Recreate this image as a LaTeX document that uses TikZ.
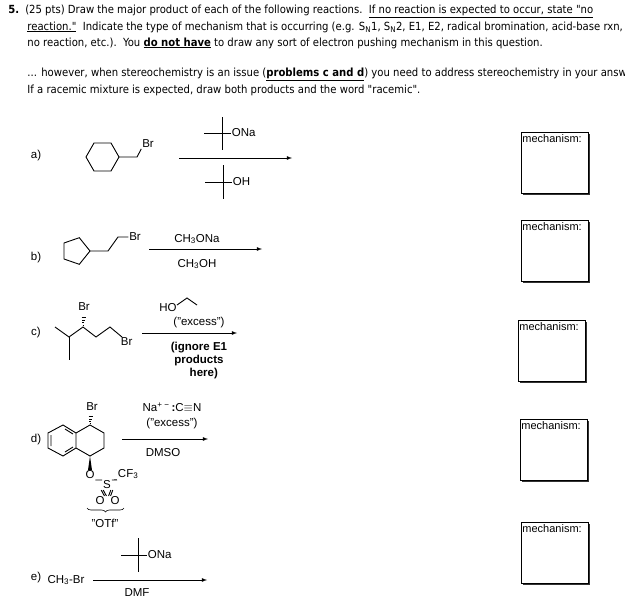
\documentclass[tikz,border=0pt]{standalone}
\usepackage{fontspec}
\setmainfont{Liberation Sans}
\newfontfamily\bodyfont{DejaVu Sans Condensed}
\usetikzlibrary{decorations.pathreplacing,calc}
\newcommand{\ul}[1]{\underline{#1}}
\newcommand{\SN}{S\textsubscript{N}}
\begin{document}
\begin{tikzpicture}[x=1pt,y=-1pt,line width=0.9pt,
  body/.style={anchor=west,inner sep=0pt,font=\bodyfont\fontsize{11.2}{13}\selectfont},
  chem/.style={inner sep=0.5pt,font=\fontsize{11.5}{13}\selectfont},
  rxn/.style={-latex,line width=0.8pt},
  mbox/.style={draw,fill=white,line width=0.8pt},
  lbl/.style={inner sep=0pt,font=\fontsize{11.5}{13}\selectfont}]
\useasboundingbox (0,0) rectangle (625,600);
% header
\node[body] (h1) at (8,11) {\textbf{5.}\hspace{6pt}(25 pts) Draw the major product of each of the following reactions.\ \ \ul{If no reaction is expected to occur, state "no}};
\node[body] (h2) at (27,27) {\ul{reaction."}\ \ Indicate the type of mechanism that is occurring (e.g. \SN1, \SN2, E1, E2, radical bromination, acid-base rxn,};
\node[body] (h3) at (27,43) {no reaction, etc.).\ \ You \textbf{\ul{do not have}} to draw any sort of electron pushing mechanism in this question.};
\node[body] (h4) at (27,74) {... however, when stereochemistry is an issue (\textbf{\ul{problems c and d}}) you need to address stereochemistry in your answer.};
\node[body] (h5) at (27,90) {If a racemic mixture is expected, draw both products and the word "racemic".};
% mechanism boxes
\foreach \n/\x/\y in {ma/521/132,mb/521/220,mc/518/320,md/520/419,me/521/522}{
  \fill[black!80] (\x+2,\y+2) rectangle ++(67,61);
  \draw[mbox] (\x,\y) rectangle ++(67,61);
  \node[anchor=north west,inner sep=1pt,font=\fontsize{11}{12}\selectfont] (\n) at (\x,\y+1) {mechanism:};
}
% a)
\node[lbl] (la) at (36,156) {a)};
\draw (119,157) -- (111,143) -- (94,143) -- (86,157) -- (94,171) -- (111,171) -- cycle;
\coordinate (a1) at (119,157);
\coordinate (a2) at (137,157);
\node[chem] (abr) at (148,144) {Br};
\draw (a1) -- (a2) -- (abr.south west);
\coordinate (ra1) at (179,158); \coordinate (ra2) at (292,158);
\draw[rxn] (ra1) -- (ra2);
\draw (222,117) -- (222,150) (204,133) -- (231,133);
\node[chem,anchor=west] (aona) at (231,133) {ONa};
\draw (223,165) -- (223,199) (205,182) -- (232,182);
\node[chem,anchor=west] (aoh) at (232,182) {OH};
% b)
\node[lbl] (lb) at (36,258) {b)};
\draw (90,251) -- (79.3,237.7) -- (64.0,243.0) -- (64.0,259.0) -- (79.3,264.3) -- cycle;
\node[chem] (bbr) at (135,237) {Br};
\draw (90,251) -- (108,251) -- (118,237) -- (bbr.west);
\draw[rxn] (149,249) -- (262,249);
\node[chem] (bc1) at (197,239) {CH\textsubscript{3}ONa};
\node[chem] (bc2) at (197,264) {CH\textsubscript{3}OH};
% c)
\node[lbl] (lc) at (36,333) {c)};
\draw (55,327) -- (69,337) -- (83,327) -- (96,337) -- (110,327) -- (122,337);
\draw (69,337) -- (69,360);
\node[chem] (cbr1) at (84,307) {Br};
\foreach \t in {0.15,0.35,...,0.95}{\draw[line width=0.7pt] ($(83,327)!\t!(84,314)+(-2.8*\t,0)$) -- ($(83,327)!\t!(84,314)+(2.8*\t,0)$);}
\node[chem,anchor=north west] (cbr2) at (120,337) {Br};
\draw[rxn] (142,333) -- (237,333);
\node[chem] (cho) at (168,308) {HO};
\draw (177,305) -- (187,298) -- (197,305);
\node[chem] (cex) at (199,323) {("excess")};
\node[chem,font=\bfseries\fontsize{11.5}{13}\selectfont,align=center] (cig) at (199,361) {(ignore E1\\products\\\ \ \ here)};
% d)
\node[lbl] (ld) at (36,440) {d)};
\draw (63,425) -- (76,433) -- (76,448) -- (63,456) -- (48,448) -- (48,433) -- cycle;
\draw (51,435) -- (51,446) (65,429) -- (73,434) (73,447) -- (65,452);
\draw (76,433) -- (90,425) -- (104,433) -- (104,448) -- (90,456) -- (76,448);
\node[chem] (dbr) at (92,407) {Br};
\foreach \t in {0.15,0.35,...,0.95}{\draw[line width=0.7pt] ($(90,425)!\t!(91,414)+(-2.8*\t,0)$) -- ($(90,425)!\t!(91,414)+(2.8*\t,0)$);}
\node[chem] (do) at (90,475) {O};
\fill (90,456) -- (88,470) -- (92,470) -- cycle;
\node[chem] (ds) at (107,485) {S};
\node[chem,anchor=west] (dcf) at (117,474) {CF\textsubscript{3}};
\node[chem] (do1) at (100,501) {O};
\node[chem] (do2) at (115,501) {O};
\draw (do.south east) -- (ds.north west) (ds.north east) -- (dcf.south west);
\draw ([xshift=-1pt]ds.south west) -- ([xshift=-1pt]do1.north east) ([xshift=1pt]ds.south west) -- ([xshift=1pt]do1.north east);
\draw ([xshift=-1pt]ds.south east) -- ([xshift=-1pt]do2.north west) ([xshift=1pt]ds.south east) -- ([xshift=1pt]do2.north west);
\draw[decorate,decoration={brace,mirror,amplitude=4pt},line width=0.6pt] (87,508) -- (124,508);
\node[chem] (dotf) at (105,523) {"OTf"};
\draw[rxn] (122,439) -- (208,439);
\node[chem] (dcn) at (172,407) {Na\textsuperscript{+}\,\textsuperscript{\textminus}\,\textbf{:}C$\equiv$N};
\node[chem] (dex) at (172,424) {("excess")};
\node[chem] (ddm) at (163,453) {DMSO};
% e)
\node[lbl] (le) at (36,578) {e)};
\node[chem] (ech) at (66,580) {CH\textsubscript{3}-Br};
\draw[rxn] (93,580) -- (207,580);
\draw (138,538) -- (138,572) (121,555) -- (147,555);
\node[chem,anchor=west] (eona) at (147,555) {ONa};
\node[chem] (edmf) at (137,593) {DMF};
\end{tikzpicture}
\end{document}
